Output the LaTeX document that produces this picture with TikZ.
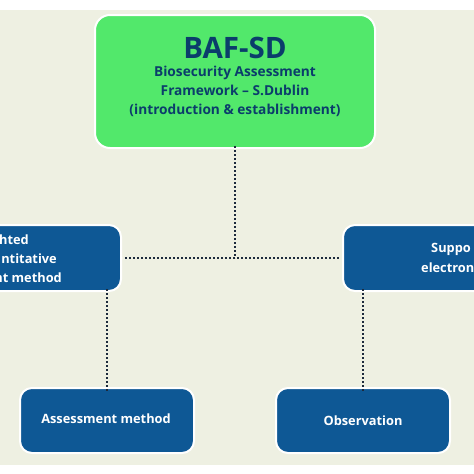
\documentclass[tikz,border=0pt]{standalone}
\usepackage{fontspec}
\setmainfont{Open Sans}
\definecolor{bgc}{HTML}{EEF0E2}
\definecolor{greenbox}{HTML}{52E86B}
\definecolor{bluebox}{HTML}{0E5895}
\definecolor{navy}{HTML}{0B3D6B}
\definecolor{dotc}{HTML}{1C2A3C}
\tikzset{
  gbox/.style={draw=white, line width=2pt, fill=greenbox, rounded corners=15pt, inner sep=0pt},
  bbox/.style={draw=white, line width=2pt, fill=bluebox, rounded corners=12pt, inner sep=0pt},
  wtext/.style={text=white, font=\bfseries\fontsize{12.8}{16}\selectfont, inner sep=0pt},
  dotline/.style={draw=dotc, line width=1.6pt, dash pattern=on 1.6pt off 2.4pt},
}
\begin{document}
\begin{tikzpicture}[x=1pt,y=-1pt]
\useasboundingbox (0,0) rectangle (474,474);
\fill[white] (0,0) rectangle (474,474);
\fill[bgc] (0,10) rectangle (474,465);
\begin{scope}
\clip (0,0) rectangle (474,474);
\node[gbox, minimum width=280pt, minimum height=133pt] (top) at (235,81.5) {};
\node[text=navy, font=\bfseries\fontsize{29.5}{32}\selectfont, inner sep=0pt] (title) at (235,48) {BAF-SD};
\node[text=navy, font=\bfseries\fontsize{13.7}{19}\selectfont, align=center, inner sep=0pt] (sub) at (235,91) {Biosecurity Assessment\\Framework – S.Dublin\\(introduction \& establishment)};
\node[bbox, minimum width=161pt, minimum height=66pt] (left) at (40.5,258) {};
\node[bbox, minimum width=177pt, minimum height=66pt] (right) at (431.5,258) {};
\node[bbox, minimum width=174pt, minimum height=65pt] (bl) at (107,420.5) {};
\node[bbox, minimum width=174pt, minimum height=65pt] (br) at (363,420.5) {};
\node[wtext, anchor=east] (l1) at (29,240) {hted};
\node[wtext, anchor=east] (l2) at (57,259) {ntitative};
\node[wtext, anchor=east] (l3) at (62,278) {nt method};
\node[wtext, anchor=west] (r1) at (431,249) {Suppo};
\node[wtext, anchor=west] (r2) at (421,268) {electron};
\node[wtext] (blt) at (106,419) {Assessment method};
\node[wtext] (brt) at (363,421) {Observation};
\coordinate (junc) at (top.south |- left.east);
\draw[dotline] ([yshift=3pt]top.south) -- (junc);
\draw[dotline] ([xshift=3pt]left.east) -- ([xshift=-3pt]right.west);
\draw[dotline] ([yshift=3pt]bl.north |- left.south) -- ([yshift=-4pt]bl.north);
\draw[dotline] ([yshift=3pt]br.north |- right.south) -- ([yshift=-4pt]br.north);
\end{scope}
\end{tikzpicture}
\end{document}
